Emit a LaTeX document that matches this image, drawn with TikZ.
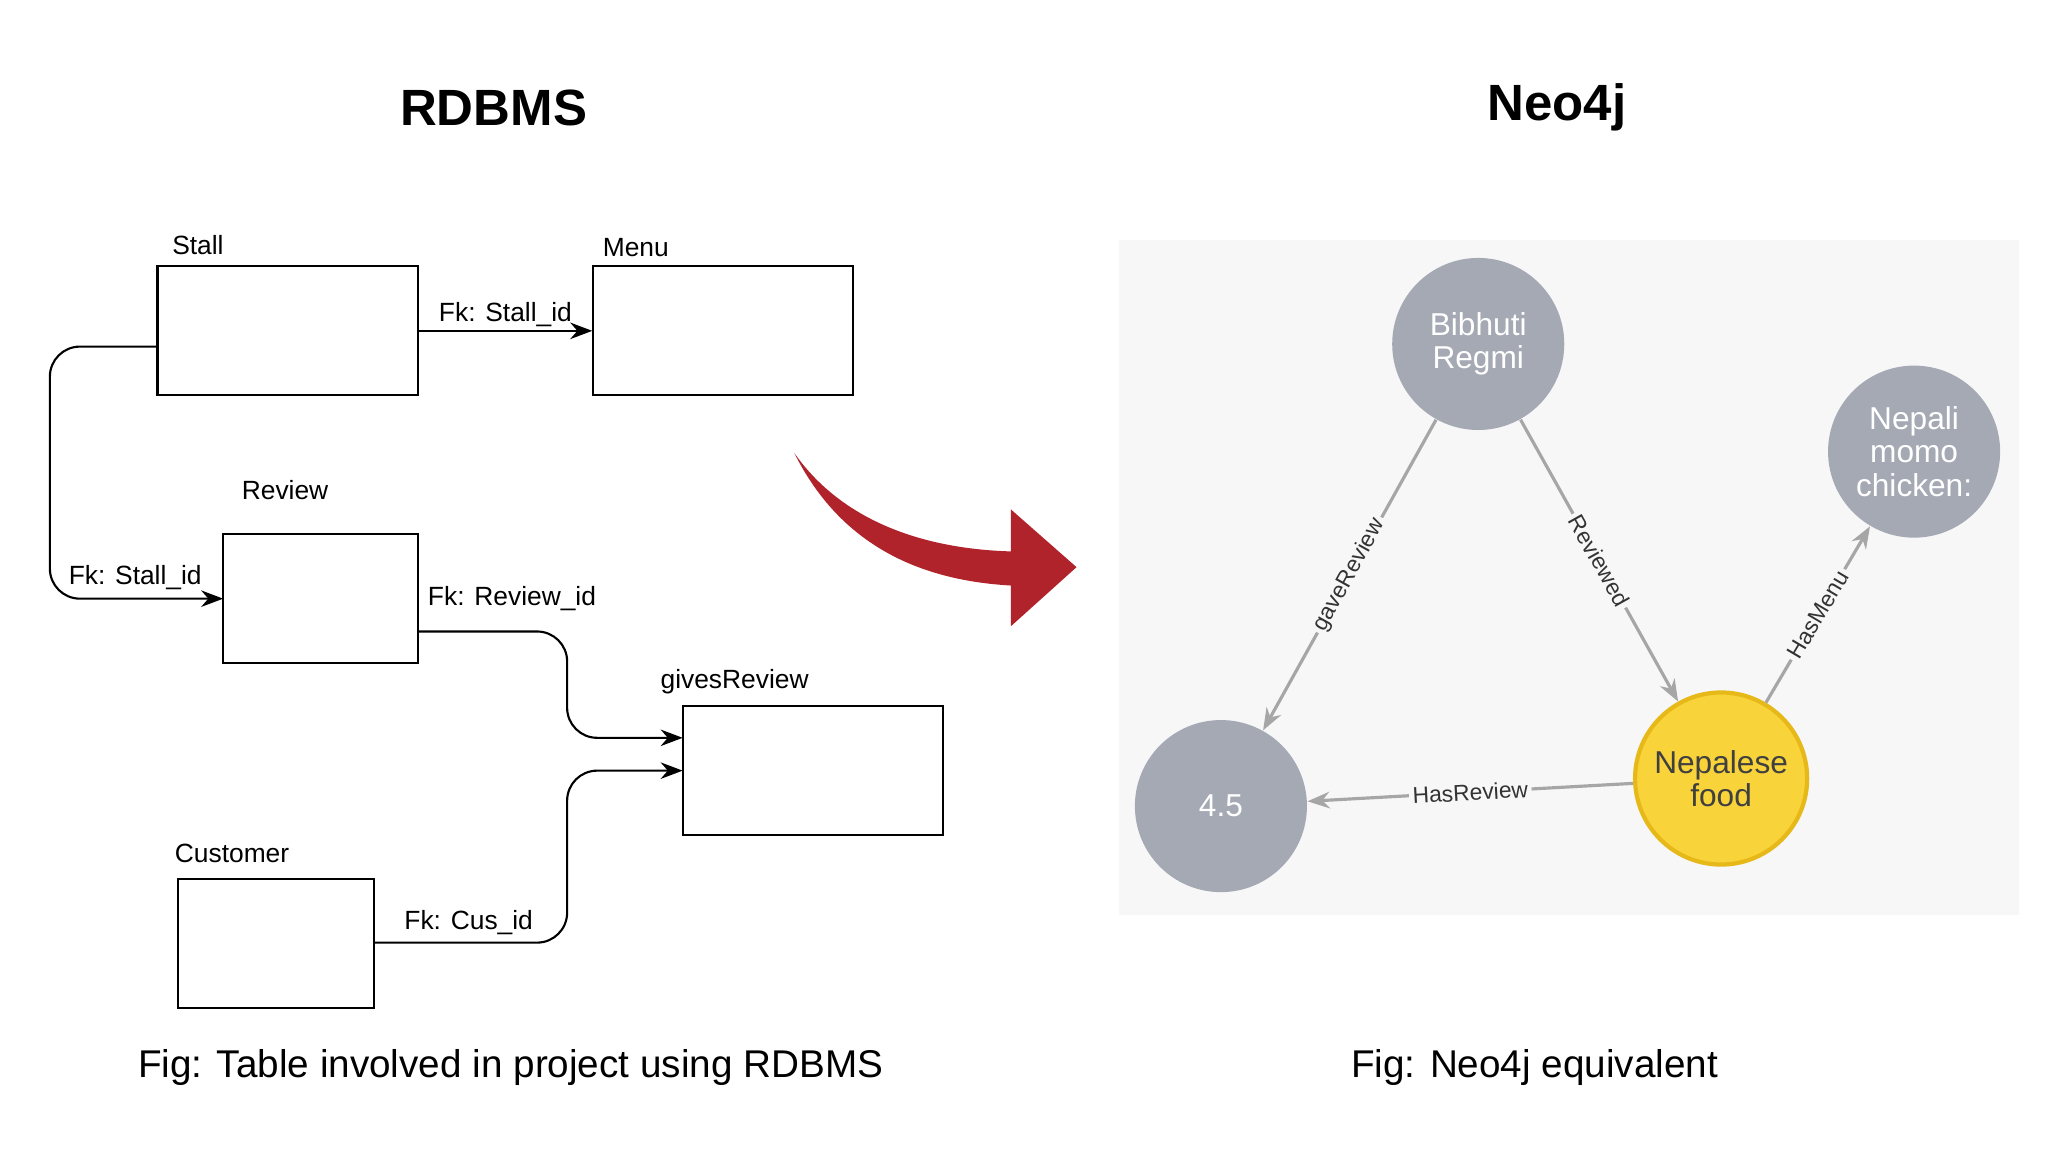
\documentclass[tikz,border=0pt]{standalone}
\usepackage{fontspec}
\setmainfont{Liberation Sans}
\usetikzlibrary{arrows.meta}
\definecolor{neogray}{HTML}{A5A9B4}
\definecolor{neoyellow}{HTML}{F9D33A}
\definecolor{neoborder}{HTML}{E6B919}
\definecolor{panel}{HTML}{F7F7F8}
\definecolor{bigred}{HTML}{B0232A}
\tikzset{
  tbl/.style={draw, line width=0.6pt, minimum width=2.6cm, minimum height=1.29cm, inner sep=0pt},
  lbl/.style={font=\fontsize{7.5}{9}\selectfont, anchor=south west, inner sep=1pt},
  fk/.style={-{Stealth[length=2.2mm]}, line width=0.6pt, rounded corners=3mm},
  circ/.style={circle, fill=neogray, minimum size=1.72cm, inner sep=0pt, text=white, align=center,
    font=\fontsize{9}{9.5}\selectfont},
  rel/.style={-{Stealth[length=2.2mm]}, draw=gray!70, line width=0.9pt},
  rlbl/.style={sloped, fill=panel, inner sep=1pt, font=\fontsize{6.5}{7}\selectfont, text=black!80},
}
\begin{document}
\begin{tikzpicture}[x=0.013128cm, y=-0.013128cm]
\useasboundingbox (0,0) rectangle (1560,877.5);
% titles
\node[font=\bfseries\fontsize{14.5}{16}\selectfont] (t1) at (376,82) {RDBMS};
\node[font=\bfseries\fontsize{14.5}{16}\selectfont] (t2) at (1186,82) {Neo4j};
% tables
\node[tbl] (stall) at (219,252) {};
\node[tbl] (menu) at (551,252) {};
\node[tbl, minimum width=1.95cm] (review) at (244,456) {};
\node[tbl] (gives) at (619,587) {};
\node[tbl, minimum width=1.96cm] (cust) at (210.5,718.5) {};
\node[lbl] (ls) at (128,197) {Stall};
\node[lbl] (lm) at (456,199) {Menu};
\node[lbl] (lr) at (181,384) {Review};
\node[lbl] (lg) at (500,532) {givesReview};
\node[lbl] (lc) at (130,660) {Customer};
% connectors
\draw[fk] (stall.east) -- (menu.west) node[midway, above, lbl, anchor=south] {Fk: Stall\_id};
\coordinate (s1) at (120,264);
\coordinate (r1) at (170,456);
\draw[fk] (s1) -- (38,264) -- (38,456) -- (r1);
\node[lbl, anchor=center] (fk1) at (103,440) {Fk: Stall\_id};
\coordinate (r2) at (318,481);
\coordinate (g1) at (520,562);
\draw[fk] (r2) -- (432,481) -- (432,562) -- (g1);
\node[lbl, anchor=center] (fk2) at (390,456) {Fk: Review\_id};
\coordinate (c1) at (285,718);
\coordinate (g2) at (520,587);
\draw[fk] (c1) -- (432,718) -- (432,587) -- (g2);
\node[lbl, anchor=center] (fk3) at (357,703) {Fk: Cus\_id};
% big red arrow
\fill[bigred] (605,345) .. controls (640,415) and (700,442) .. (770,446) -- (770,477) -- (820,432)
  -- (770,388) -- (770,420) .. controls (700,418) and (640,395) .. cycle;
% neo4j panel
\fill[panel] (852,183) rectangle (1538,697);
\node[circ] (bib) at (1126,262) {Bibhuti\\Regmi};
\node[circ] (momo) at (1458,344) {Nepali\\momo\\chicken:};
\node[circ] (score) at (930,614) {4.5};
\node[circ, fill=neoyellow, draw=neoborder, line width=1.2pt, text=black!75] (food) at (1311,593) {Nepalese\\food};
\draw[rel] (bib) -- (score) node[midway, rlbl] {gaveReview};
\draw[rel] (bib) -- (food) node[midway, rlbl] {Reviewed};
\draw[rel] (food) -- (momo) node[midway, rlbl] {HasMenu};
\draw[rel] (food) -- (score) node[midway, rlbl] {HasReview};
% captions
\node[font=\fontsize{11}{13}\selectfont] (cap1) at (389,813) {Fig: Table involved in project using RDBMS};
\node[font=\fontsize{11}{13}\selectfont] (cap2) at (1169,813) {Fig: Neo4j equivalent};
\end{tikzpicture}
\end{document}
